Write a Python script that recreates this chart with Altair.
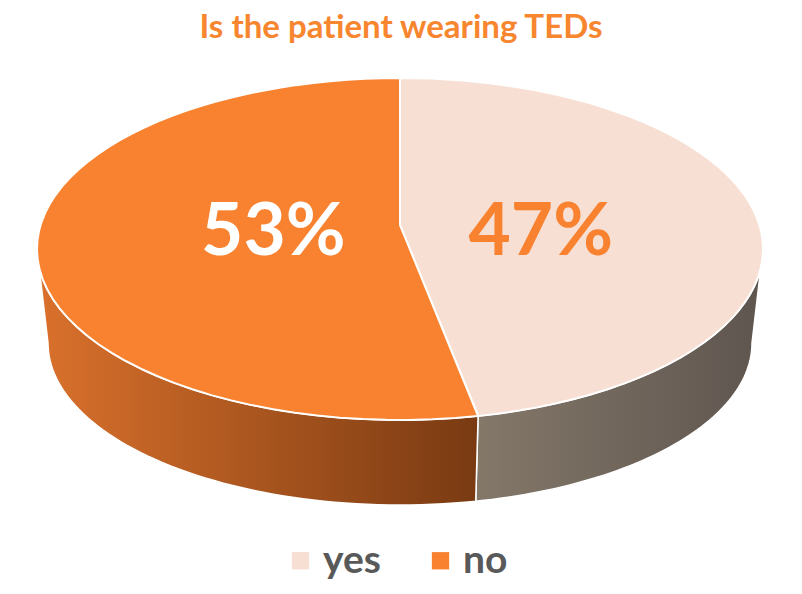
import altair as alt
import pandas as pd

# ---- data ----
categories = ["yes", "no"]
values = [47, 53]
face_colors = ["#F7DFD3", "#F8822F"]
label_colors = ["#F8822F", "#FFFFFF"]
title_text = "Is the patient wearing TEDs"

df = pd.DataFrame({"cat": categories, "value": values, "order": list(range(len(categories)))})

# ---- geometry (page pixels) ----
W, H, TOP = 802, 594, 50
CX, CY, RX, RY = 400, 249, 363, 171      # top face ellipse
BCY, BRX, BRY = 343, 352, 162            # bottom rim ellipse
C = 0.14                                 # perspective shift of the pie centre
N = 60
LX, LY, LR = 407, 233, 0.37

xs = alt.X("px:Q", scale=alt.Scale(domain=[0, W], nice=False, zero=False), axis=None)
ys = alt.Y("py:Q", scale=alt.Scale(domain=[H, TOP], nice=False, zero=False), axis=None)

base = alt.Chart(df).transform_joinaggregate(
    total="sum(value)"
).transform_window(
    cum="sum(value)", sort=[alt.SortField("order")], frame=[None, 0]
).transform_calculate(
    a0="2*PI*(datum.cum - datum.value)/datum.total",
    a1="2*PI*datum.cum/datum.total",
)

# perspective mapping of a circle angle onto the ellipse
U = f"(sin(datum.t) * sqrt(1 - {C}*{C}) / (1 + {C} * cos(datum.t)))"
V = f"((cos(datum.t) + {C}) / (1 + {C} * cos(datum.t)))"

# ---- side walls ----
grad_yes = alt.Gradient(gradient="linear", x1=0, x2=1, y1=0, y2=0,
                        stops=[alt.GradientStop(color="#847869", offset=0),
                               alt.GradientStop(color="#5E554F", offset=1)])
grad_no = alt.Gradient(gradient="linear", x1=0, x2=1, y1=0, y2=0,
                       stops=[alt.GradientStop(color="#DA712C", offset=0),
                              alt.GradientStop(color="#793A12", offset=1)])


def side(cat, grad):
    return base.transform_filter(alt.datum.cat == cat).transform_calculate(
        s0=f"max(datum.a0, acos(-{C}))", s1=f"min(datum.a1, 2*PI - acos(-{C}))"
    ).transform_filter("datum.s1 > datum.s0").transform_calculate(
        k=f"sequence(0, {2 * N + 2})"
    ).transform_flatten(["k"]).transform_calculate(
        t=f"datum.k <= {N} ? datum.s0 + (datum.s1 - datum.s0) * datum.k / {N} "
          f": datum.s1 - (datum.s1 - datum.s0) * (datum.k - {N + 1}) / {N}"
    ).transform_calculate(
        px=f"datum.k <= {N} ? {CX} + {RX} * {U} : {CX} + {BRX} * {U}",
        py=f"datum.k <= {N} ? {CY} - {RY} * {V} : {BCY} - {BRY} * {V}",
    ).mark_line(
        fill=grad, stroke="white", strokeWidth=1.5, interpolate="linear-closed"
    ).encode(x=xs, y=ys, order="k:Q")


side_yes = side(categories[0], grad_yes)
side_no = side(categories[1], grad_no)

# ---- top face ----
top = base.transform_calculate(
    k=f"sequence(-1, {N + 1})"
).transform_flatten(["k"]).transform_calculate(
    t=f"datum.a0 + (datum.a1 - datum.a0) * datum.k / {N}"
).transform_calculate(
    px=f"datum.k < 0 ? {CX} : {CX} + {RX} * {U}",
    py=f"datum.k < 0 ? {CY} - {RY} * {C} : {CY} - {RY} * {V}",
).mark_line(
    filled=True, stroke="white", strokeWidth=2, strokeJoin="round", interpolate="linear-closed"
).encode(
    x=xs, y=ys, order="k:Q", detail="cat:N",
    color=alt.Color(
        "cat:N",
        scale=alt.Scale(domain=categories, range=face_colors),
        legend=alt.Legend(
            orient="none", legendX=281, legendY=491, direction="horizontal", title=None,
            symbolType="square", symbolSize=300, symbolStrokeWidth=0,
            labelFontSize=39, labelFont="Lato", labelFontWeight="bold", labelColor="#595959",
            columnPadding=40, labelOffset=3,
        ),
    ),
)

# ---- labels ----
labels = base.transform_calculate(
    mid="(datum.a0 + datum.a1) / 2",
    label="datum.value + '%'",
).transform_calculate(
    px=f"{LX} + {RX} * {LR} * sin(datum.mid)",
    py=f"{LY}",
).mark_text(
    font="Lato", fontSize=73, fontWeight="bold", baseline="middle", align="center"
).encode(
    x=xs, y=ys, text="label:N",
    color=alt.Color("cat:N", scale=alt.Scale(domain=categories, range=label_colors), legend=None),
)

chart = alt.layer(side_yes, side_no, top, labels).resolve_scale(
    color="independent"
).properties(
    width=W, height=H - TOP,
    padding={"left": 0, "right": 0, "top": TOP, "bottom": 0},
    autosize="none",
    title=alt.Title(title_text, font="Lato", fontSize=33, fontWeight="bold",
                    color="#F7862F", anchor="middle", offset=5),
).configure_view(stroke=None)

chart.save("out.html", embed_options={"renderer": "svg", "actions": False})
